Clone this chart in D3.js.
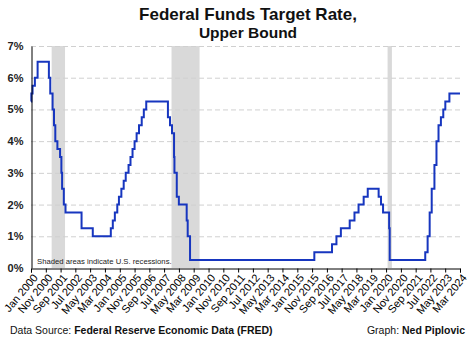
<!DOCTYPE html>
<html><head><meta charset="utf-8">
<script src="https://cdn.jsdelivr.net/npm/d3@7"></script>
<style>
body{margin:0;background:#fff}
svg{display:block;font-family:"Liberation Sans",Arial,Helvetica,sans-serif}
</style>
</head><body><svg id="chart" width="474" height="344"></svg>
<script>
// Rate change dates and new upper-bound target rate (%)
const changeDates = ["2000-01-01","2000-01-08","2000-02-02","2000-03-21","2000-05-16",
  "2001-01-03","2001-01-31","2001-03-20","2001-04-18","2001-05-15","2001-06-27","2001-08-21",
  "2001-09-17","2001-10-02","2001-11-06","2001-12-11","2002-11-06","2003-06-25",
  "2004-06-30","2004-08-10","2004-09-21","2004-11-10","2004-12-14","2005-02-02","2005-03-22",
  "2005-05-03","2005-06-30","2005-08-09","2005-09-20","2005-11-01","2005-12-13","2006-01-31",
  "2006-03-28","2006-05-10","2006-06-29","2007-09-18","2007-10-31","2007-12-11","2008-01-22",
  "2008-01-30","2008-03-18","2008-04-30","2008-10-08","2008-10-29","2008-12-16",
  "2015-12-17","2016-12-15","2017-03-16","2017-06-15","2017-12-14","2018-03-22","2018-06-14",
  "2018-09-27","2018-12-20","2019-08-01","2019-09-19","2019-10-31","2020-03-04","2020-03-16",
  "2022-03-17","2022-05-05","2022-06-16","2022-07-28","2022-09-22","2022-11-03","2022-12-15",
  "2023-02-02","2023-03-23","2023-05-04","2023-07-27","2024-03-01"];
const rates = [5.25,5.5,5.75,6.0,6.5,
  6.0,5.5,5.0,4.5,4.0,3.75,3.5,
  3.0,2.5,2.0,1.75,1.25,1.0,
  1.25,1.5,1.75,2.0,2.25,2.5,2.75,
  3.0,3.25,3.5,3.75,4.0,4.25,4.5,
  4.75,5.0,5.25,4.75,4.5,4.25,3.5,
  3.0,2.25,2.0,1.5,1.0,0.25,
  0.5,0.75,1.0,1.25,1.5,1.75,2.0,
  2.25,2.5,2.25,2.0,1.75,1.25,0.25,
  0.5,1.0,1.75,2.5,3.25,4.0,4.5,
  4.75,5.0,5.25,5.5,5.5];
const recessionStarts = ["2001-03-01","2007-12-01","2020-02-01"];
const recessionEnds   = ["2001-12-01","2009-06-30","2020-04-30"];
const tickLabels = ["Jan 2000","Nov 2000","Sep 2001","Jul 2002","May 2003","Mar 2004",
  "Jan 2005","Nov 2005","Sep 2006","Jul 2007","May 2008","Mar 2009","Jan 2010","Nov 2010",
  "Sep 2011","Jul 2012","May 2013","Mar 2014","Jan 2015","Nov 2015","Sep 2016","Jul 2017",
  "May 2018","Mar 2019","Jan 2020","Nov 2020","Sep 2021","Jul 2022","May 2023","Mar 2024"];
const yTicks = [0,1,2,3,4,5,6,7];

const parseDay = d3.timeParse("%Y-%m-%d");
const parseTick = d3.timeParse("%b %Y");
const data = changeDates.map((d,i)=>({date:parseDay(d), v:rates[i]}));
const tickDates = tickLabels.map(parseTick);

const svg = d3.select("#chart");
const x = d3.scaleTime().domain([parseTick("Jan 2000"), parseTick("Mar 2024")]).range([31,460]);
const y = d3.scaleLinear().domain([0,7]).range([268,46]);

// recessions
svg.append("g").selectAll("rect").data(recessionStarts).join("rect")
  .attr("x", (d)=>x(parseDay(d)))
  .attr("width", (d,i)=>x(parseDay(recessionEnds[i]))-x(parseDay(d)))
  .attr("y", y(7)).attr("height", y(0)-y(7))
  .attr("fill","#d9d9d9");

// gridlines
svg.append("g").selectAll("line").data(yTicks.filter(t=>t>0)).join("line")
  .attr("x1",31).attr("x2",460)
  .attr("y1",d=>y(d)+0.5).attr("y2",d=>y(d)+0.5)
  .attr("stroke","#d0d0d0").attr("stroke-width",1).attr("stroke-dasharray","5,3");

// note
svg.append("text").attr("x",37).attr("y",264)
  .attr("font-size","7.7px").attr("fill","#222")
  .text("Shaded areas indicate U.S. recessions.");

// line
svg.append("path").datum(data)
  .attr("d", d3.line().x(d=>x(d.date)).y(d=>y(d.v)).curve(d3.curveStepAfter))
  .attr("fill","none").attr("stroke","#1736bf").attr("stroke-width",2);

// x axis
const xAxis = d3.axisBottom(x).tickValues(tickDates).tickSize(4).tickFormat((d,i)=>tickLabels[i]);
const gx = svg.append("g").attr("transform","translate(0,268.5)").call(xAxis);
gx.select(".domain").attr("stroke","#000");
gx.selectAll(".tick line").attr("stroke","#000");
gx.selectAll(".tick text")
  .attr("font-family","Liberation Sans, Arial, sans-serif")
  .attr("font-size","11px").attr("fill","#000")
  .attr("text-anchor","end")
  .attr("transform","translate(4,7) rotate(-50)")
  .attr("dy","0.35em").attr("y",0).attr("x",0);

// y axis
const yAxis = d3.axisLeft(y).tickValues(yTicks).tickSize(0).tickPadding(8).tickFormat(d=>d+"%");
const gy = svg.append("g").attr("transform","translate(31.5,0)").call(yAxis);
gy.select(".domain").attr("stroke","#000");
gy.selectAll(".tick text")
  .attr("font-family","Liberation Sans, Arial, sans-serif")
  .attr("font-size","11px").attr("font-weight","bold").attr("fill","#222");

// titles
svg.append("text").attr("x",248).attr("y",20).attr("text-anchor","middle")
  .attr("font-size","17px").attr("font-weight","bold").attr("fill","#111")
  .text("Federal Funds Target Rate,");
svg.append("text").attr("x",248).attr("y",38).attr("text-anchor","middle")
  .attr("font-size","15.5px").attr("font-weight","bold").attr("fill","#111")
  .text("Upper Bound");

// footer
const f1 = svg.append("text").attr("x",10).attr("y",334).attr("font-size","10.5px").attr("fill","#111");
f1.append("tspan").text("Data Source: ");
f1.append("tspan").attr("font-weight","bold").text("Federal Reserve Economic Data (FRED)");
const f2 = svg.append("text").attr("x",465).attr("y",334).attr("text-anchor","end").attr("font-size","10.5px").attr("fill","#111");
f2.append("tspan").text("Graph: ");
f2.append("tspan").attr("font-weight","bold").text("Ned Piplovic");
</script>
</body></html>
